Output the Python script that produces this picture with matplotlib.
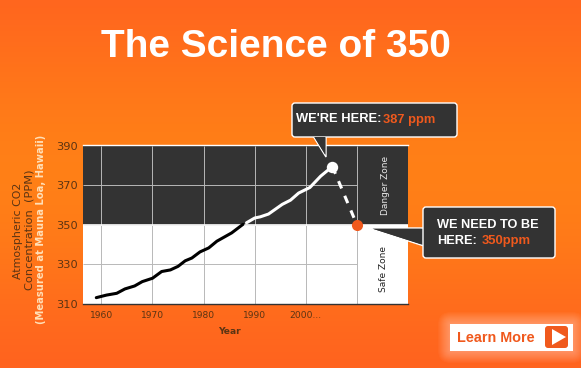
import matplotlib
matplotlib.use("Agg")
import matplotlib.pyplot as plt
from matplotlib.patches import FancyBboxPatch, Polygon, Rectangle
import numpy as np

# Data
years_low = [1959, 1961, 1963, 1964.6, 1966.5, 1968, 1970, 1971.8, 1973.5, 1975, 1976.4, 1977.7, 1979.3, 1981, 1982.6, 1985.5, 1987.7]
ppm_low = [313.2, 314.5, 315.4, 317.6, 319.1, 321.3, 323, 326.4, 327.2, 329, 331.8, 333.2, 336.3, 338.3, 341.7, 345.9, 350.2]
years_high = [1988.4, 1990, 1991.1, 1992.7, 1995.4, 1997, 1998.6, 2000.8, 2002.9, 2005.2]
ppm_high = [351, 353.4, 354, 355.4, 360.3, 362.4, 366, 368.8, 374.5, 379.4]
years_need = [2005.2, 2010]
ppm_need = [379.4, 350]

y_ticks = [310, 330, 350, 370, 390]
x_grid = [1960, 1970, 1980, 1990, 2000, 2010]
x_labels = ["1960", "1970", "1980", "1990", "2000..."]

W, H = 581, 368
ORANGE = "#f0591d"
DARK = "#333333"
BROWN = "#5b3413"

fig = plt.figure(figsize=(W / 100, H / 100), dpi=100)

# orange background
bg = fig.add_axes([0, 0, 1, 1], zorder=0)
yy, xx = np.mgrid[0:1:184j, 0:1:290j]
glow = np.exp(-((yy - 0.47) / 0.42) ** 2)
rgb = np.zeros((184, 290, 3))
rgb[..., 0] = 1.0
rgb[..., 1] = (0.36 + 0.14 * glow)
rgb[..., 2] = (0.13 - 0.04 * glow)
bg.imshow(rgb, extent=(0, W, H, 0), aspect="auto", interpolation="bilinear")
bg.axis("off")

# chart
left, right, top, bottom = 83, 408, 145.5, 304
ax = fig.add_axes([left / W, 1 - bottom / H, (right - left) / W, (bottom - top) / H], zorder=1)
ax.set_xlim(1956.4, 2020)
ax.set_ylim(310, 390)
ax.axhspan(350, 390, color=DARK, lw=0, zorder=0)
ax.axhspan(310, 350, color="white", lw=0, zorder=0)
ax.hlines(y_ticks[1:4], 1956.4, 2010, color="#b8b8b8", lw=0.7, zorder=1)
ax.vlines(x_grid, 310, 390, color="#b8b8b8", lw=0.7, zorder=1)
ax.axhline(350, color="white", lw=1.2, zorder=1)
ax.plot(years_low, ppm_low, color="black", lw=2.2, zorder=3, solid_capstyle="round")
ax.plot(years_high, ppm_high, color="white", lw=2.2, zorder=3, solid_capstyle="round")
ax.plot(years_need, ppm_need, color="white", lw=2.2, ls=(0, (2.6, 2.6)), zorder=3)
ax.plot(years_high[-1], ppm_high[-1], "o", color="white", ms=8.2, mew=0, zorder=4)
ax.plot(years_need[-1], ppm_need[-1], "o", color=ORANGE, ms=8, mew=0, zorder=4, clip_on=False)
ax.text(2015.5, 370, "Danger Zone", color="#e8e8e8", rotation=90, ha="center", va="center", fontsize=6.5, family="DejaVu Sans")
ax.text(2015.2, 327.7, "Safe Zone", color="#222222", rotation=90, ha="center", va="center", fontsize=6.5, family="DejaVu Sans")

for s in ["left", "right"]:
    ax.spines[s].set_visible(False)
ax.spines["top"].set_color("white")
ax.spines["top"].set_linewidth(1)
ax.spines["bottom"].set_color("#333333")
ax.spines["bottom"].set_linewidth(1)
ax.set_xticks(x_grid[:-1], x_labels)
ax.set_yticks(y_ticks)
ax.tick_params(length=0, colors=BROWN, labelsize=6.6, pad=5)
ax.tick_params(axis="y", labelsize=8.2, pad=4)
for lab in ax.get_xticklabels() + ax.get_yticklabels():
    lab.set_family("DejaVu Sans")

# overlay in pixel coordinates for the title, callouts and button
ov = fig.add_axes([0, 0, 1, 1], zorder=2)
ov.set_xlim(0, W)
ov.set_ylim(H, 0)
ov.axis("off")
ov.patch.set_alpha(0)

ov.text(276, 47, "The Science of 350", color="white", fontsize=28, weight="bold",
        family="Liberation Sans", ha="center", va="center")

ov.text(229, 331, "Year", color=BROWN, fontsize=6.6, weight="bold", ha="center", va="center")
ov.text(18, 231, "Atmospheric CO2", color=BROWN, fontsize=7.9, rotation=90, ha="center", va="center")
ov.text(29.5, 230, "Concentration  (PPM)", color=BROWN, fontsize=8.2, rotation=90, ha="center", va="center")
ov.text(41, 229, "(Measured at Mauna Loa, Hawaii)", color="#ffe0b8", fontsize=7.2, weight="bold",
        rotation=90, ha="center", va="center")


def callout(x0, y0, x1, y1, tail):
    ov.add_patch(Polygon(tail, closed=True, fc=DARK, ec="white", lw=1, zorder=5))
    ov.add_patch(FancyBboxPatch((x0 + 3, y0 + 3), x1 - x0 - 6, y1 - y0 - 6, boxstyle="round,pad=3,rounding_size=3",
                                fc=DARK, ec="white", lw=1, zorder=6))
    seam = np.array(tail, dtype=float)
    ctr = seam.mean(axis=0)
    ov.add_patch(Polygon(ctr + (seam - ctr) * 0.86, closed=True, fc=DARK, ec="none", zorder=7))


callout(292, 103, 457, 137, [(313, 136), (326, 157), (326, 136)])
callout(423, 207, 555, 258, [(424, 228), (368, 228), (424, 246)])

ov.text(296, 119.5, "WE'RE HERE:", color="white", fontsize=9.3, weight="bold", family="Liberation Sans", va="center", zorder=8)
ov.text(383, 119.5, "387 ppm", color=ORANGE, fontsize=9.3, weight="bold", family="Liberation Sans", va="center", zorder=8)
ov.text(437, 225, "WE NEED TO BE", color="white", fontsize=9.2, weight="bold", family="Liberation Sans", va="center", zorder=8)
ov.text(437, 241, "HERE:", color="white", fontsize=9.2, weight="bold", family="Liberation Sans", va="center", zorder=8)
ov.text(482, 241, "350ppm", color=ORANGE, fontsize=9.4, weight="bold", family="Liberation Sans", va="center", zorder=8)

# button with soft glow
for pad in range(12, 0, -1):
    ov.add_patch(FancyBboxPatch((450, 324), 123, 27, boxstyle=f"round,pad={pad},rounding_size={pad + 1}",
                                fc="white", ec="none", alpha=0.03, zorder=5))
ov.add_patch(Rectangle((450, 324), 123, 27, fc="white", ec="none", zorder=6))
ov.text(457, 338, "Learn More", color=ORANGE, fontsize=10.4, weight="bold", family="Liberation Sans",
        va="center", zorder=7)
ov.add_patch(FancyBboxPatch((547, 328), 19, 18, boxstyle="round,pad=2,rounding_size=3", fc=ORANGE, ec="none", zorder=7))
ov.add_patch(Polygon([(552, 329), (552, 345), (566, 337)], closed=True, fc="white", ec="none", zorder=8))

fig.savefig("out.png", dpi=100)
